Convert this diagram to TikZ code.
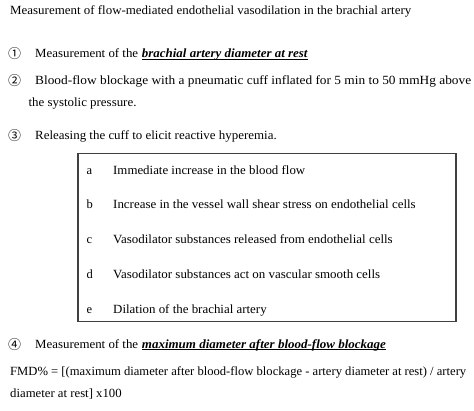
\documentclass[tikz,border=0pt]{standalone}
\usepackage{fontspec}
\usepackage{graphicx}
\setmainfont{Liberation Serif}
\newfontfamily\circfont{Noto Sans CJK JP}
\newsavebox\ulbox
\newcommand{\fitto}[2]{\resizebox{#1}{\height}{#2}}
\newcommand{\emphu}[2]{\sbox\ulbox{\fitto{#1}{\textbf{\textit{#2}}}}\rlap{\rule[-2.2pt]{\wd\ulbox}{0.9pt}}\usebox\ulbox}
\begin{document}
\begin{tikzpicture}[x=1pt,y=-1pt,
  txt/.style={anchor=base west,inner sep=0pt,font=\fontsize{12.5}{14}\selectfont},
  num/.style={anchor=base west,inner sep=0pt,font=\circfont\fontsize{13}{15}\selectfont},
  listbox/.style={draw=black!75,line width=1.2pt}]
\useasboundingbox (0,0) rectangle (474,410);
\node[txt] (title) at (10,14.5) {\fitto{401pt}{Measurement of flow-mediated endothelial vasodilation in the brachial artery}};
\node[num] (n1) at (8,58.5) {①};
\node[txt] (s1) at (35,57.5) {\fitto{103pt}{Measurement of the}};
\node[txt] (s1u) at (141.7,57.5) {\emphu{166pt}{brachial artery diameter at rest}};
\node[num] (n2) at (8,85) {②};
\node[txt] (s2) at (35,84) {\fitto{436pt}{Blood-flow blockage with a pneumatic cuff inflated for 5 min to 50 mmHg above}};
\node[txt] (s2b) at (28.3,106) {\fitto{108pt}{the systolic pressure.}};
\node[num] (n3) at (8,140.5) {③};
\node[txt] (s3) at (35,139.5) {\fitto{241.5pt}{Releasing the cuff to elicit reactive hyperemia.}};
\draw[listbox] (78,153.5) rectangle (456,321.5);
\node[txt] (la) at (86.5,174) {a};
\node[txt] (ta) at (113,174) {\fitto{192pt}{Immediate increase in the blood flow}};
\node[txt] (lb) at (86.5,208.5) {b};
\node[txt] (tb) at (113,208.5) {\fitto{302.5pt}{Increase in the vessel wall shear stress on endothelial cells}};
\node[txt] (lc) at (86.5,243.5) {c};
\node[txt] (tc) at (113,243.5) {\fitto{279.5pt}{Vasodilator substances released from endothelial cells}};
\node[txt] (ld) at (86.5,278.5) {d};
\node[txt] (td) at (113,278.5) {\fitto{267pt}{Vasodilator substances act on vascular smooth cells}};
\node[txt] (le) at (86.5,313.5) {e};
\node[txt] (te) at (113,313.5) {\fitto{153.5pt}{Dilation of the brachial artery}};
\node[num] (n4) at (8,349) {④};
\node[txt] (s4) at (35,348) {\fitto{103pt}{Measurement of the}};
\node[txt] (s4u) at (141.7,348) {\emphu{244pt}{maximum diameter after blood-flow blockage}};
\node[txt] (f1) at (10,375.5) {\fitto{456pt}{FMD\% = [(maximum diameter after blood-flow blockage - artery diameter at rest) / artery}};
\node[txt] (f2) at (10,397) {\fitto{111.5pt}{diameter at rest] x100}};
\end{tikzpicture}
\end{document}
